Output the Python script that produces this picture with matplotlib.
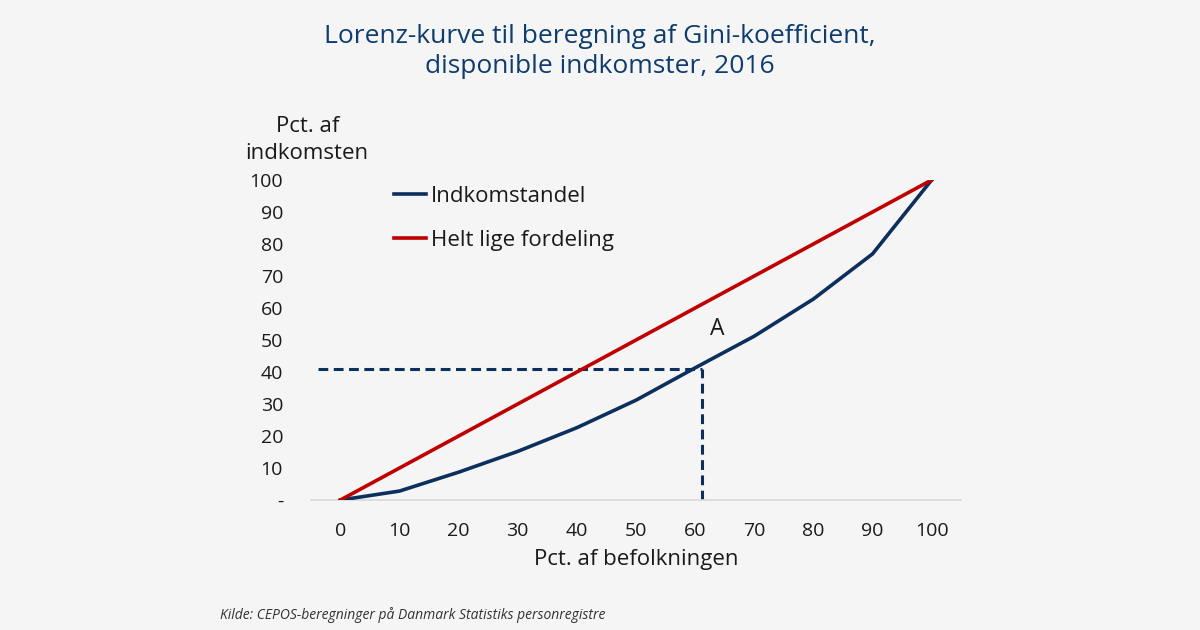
import matplotlib.pyplot as plt

plt.rcParams['font.family'] = ['Open Sans', 'DejaVu Sans']

# data
befolkning = [0, 10, 20, 30, 40, 50, 60, 70, 80, 90, 100]
indkomstandel = [0, 2.8, 8.7, 15.2, 22.6, 31.2, 41.3, 51.2, 62.8, 76.9, 100]
lige_fordeling = [0, 10, 20, 30, 40, 50, 60, 70, 80, 90, 100]
marker_x = 61.2
marker_y = 40.8
y_ticks = [0, 10, 20, 30, 40, 50, 60, 70, 80, 90, 100]
y_ticklabels = ['-', '10', '20', '30', '40', '50', '60', '70', '80', '90', '100']

navy = '#0C2F5E'
red = '#C00000'
bg = '#F5F5F5'
text_col = '#1A1A1A'

fig = plt.figure(figsize=(12, 6.3), dpi=100, facecolor=bg)
ax = fig.add_axes([0.259, 0.2063, 0.542, 0.508])
ax.set_facecolor(bg)

ax.plot(befolkning, indkomstandel, color=navy, lw=2.6, label='Indkomstandel',
        solid_joinstyle='miter', zorder=3)
ax.plot(befolkning, lige_fordeling, color=red, lw=2.6, label='Helt lige fordeling',
        zorder=3)

# dashed guide lines
ax.plot([-3.8, marker_x], [marker_y, marker_y], color=navy, lw=2.2,
        dashes=(3.2, 1.8), zorder=2)
ax.plot([marker_x, marker_x], [0, marker_y], color=navy, lw=2.2,
        dashes=(3.2, 1.8), zorder=2)

ax.text(63.8, 53.5, 'A', fontsize=16.5, color=text_col, ha='center', va='center')

ax.set_xlim(-5, 105)
ax.set_ylim(0, 100)
ax.set_xticks(befolkning)
ax.set_yticks(y_ticks)
ax.set_yticklabels(y_ticklabels)
ax.tick_params(axis='both', length=0, labelsize=14, colors=text_col)
ax.tick_params(axis='x', pad=16)
ax.tick_params(axis='y', pad=20)
for lab in ax.get_yticklabels():
    lab.set_horizontalalignment('right')

for s in ['top', 'right', 'left']:
    ax.spines[s].set_visible(False)
ax.spines['bottom'].set_color('#D9D9D9')
ax.spines['bottom'].set_linewidth(1.2)

ax.set_xlabel('Pct. af befolkningen', fontsize=16, color=text_col, labelpad=6)

fig.text(0.256, 0.778, 'Pct. af\nindkomsten', fontsize=16, color=text_col,
         ha='center', va='center', linespacing=1.35)

leg = ax.legend(loc='upper left', bbox_to_anchor=(0.097, 1.045), frameon=False,
                fontsize=16, handlelength=1.45, handletextpad=0.2,
                labelspacing=1.05, labelcolor=text_col)

fig.text(0.5, 0.918, 'Lorenz-kurve til beregning af Gini-koefficient,\n'
         'disponible indkomster, 2016', fontsize=19, color='#0E3C6E',
         ha='center', va='center', linespacing=1.25)

fig.text(0.183, 0.024, 'Kilde: CEPOS-beregninger på Danmark Statistiks personregistre',
         fontsize=10, style='italic', color='#333333', ha='left', va='center')

fig.savefig('out.png', dpi=100, facecolor=bg)
